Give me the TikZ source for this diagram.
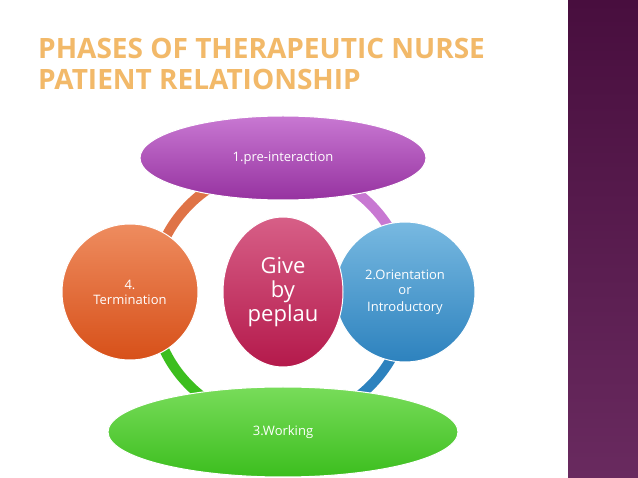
\documentclass[tikz,border=0pt]{standalone}
\usepackage{fontspec}
\setmainfont{Open Sans}
\usepackage{tikz}
\usetikzlibrary{positioning, calc}
\usetikzlibrary{shapes,backgrounds}

\begin{document}
\begin{tikzpicture}[x=1pt,y=-1pt]
\definecolor{plumdark}{RGB}{72,14,62};
\definecolor{plumlight}{RGB}{105,42,95};
\definecolor{titlegold}{RGB}{242,185,105};
\definecolor{orangetop}{RGB}{238,140,95};
\definecolor{orangebot}{RGB}{215,80,25};
\definecolor{bluetop}{RGB}{120,185,225};
\definecolor{bluebot}{RGB}{45,130,190};
\definecolor{crimtop}{RGB}{215,95,135};
\definecolor{crimbot}{RGB}{180,25,75};
\definecolor{violtop}{RGB}{200,120,210};
\definecolor{violbot}{RGB}{150,50,160};
\definecolor{greentop}{RGB}{120,220,90};
\definecolor{greenbot}{RGB}{60,190,30};
\tikzset{phase/.style={font=\fontsize{13}{15}\selectfont,
                       align=center,text=white,inner sep=0pt},
         disc/.style={draw=white,line width=1pt}}
\useasboundingbox (0,0) rectangle (638,478);
\fill [white] (0,0) rectangle (638,478);
\shade [top color=plumdark,bottom color=plumlight] (568,0) rectangle (638,478);
\node [anchor=west,text=titlegold,font=\fontsize{28}{31}\bfseries\selectfont,align=left,inner sep=0pt]
      (title) at (38,64) {PHASES OF THERAPEUTIC NURSE\\PATIENT RELATIONSHIP};
% ring behind the phases
\draw [line width=10pt,orangebot!80] (280,295) ++(180:128) arc (180:270:128);
\draw [line width=10pt,violtop] (280,295) ++(270:128) arc (270:360:128);
\draw [line width=10pt,bluebot] (280,295) ++(0:128) arc (0:90:128);
\draw [line width=10pt,greenbot] (280,295) ++(90:128) arc (90:180:128);
\shade [top color=orangetop,bottom color=orangebot,disc] (130,292) circle (68);
\node [phase] (term) at (130,292) {4.\\Termination};
\shade [top color=bluetop,bottom color=bluebot,disc] (405,292) circle (70);
\node [phase] (orient) at (405,292) {2.Orientation\\or\\[2pt]Introductory};
\shade [top color=crimtop,bottom color=crimbot,disc] (283,292) ellipse (60 and 75);
\node [phase,font=\fontsize{22}{24}\selectfont] (give) at (283,292) {Give\\by\\peplau};
\shade [top color=violtop,bottom color=violbot,disc] (283,158) ellipse (143 and 42);
\node [phase] (pre) at (283,158) {1.pre-interaction};
\shade [top color=greentop,bottom color=greenbot,disc] (283,432) ellipse (175 and 45);
\node [phase] (work) at (283,432) {3.Working};
\end{tikzpicture}
\end{document}
